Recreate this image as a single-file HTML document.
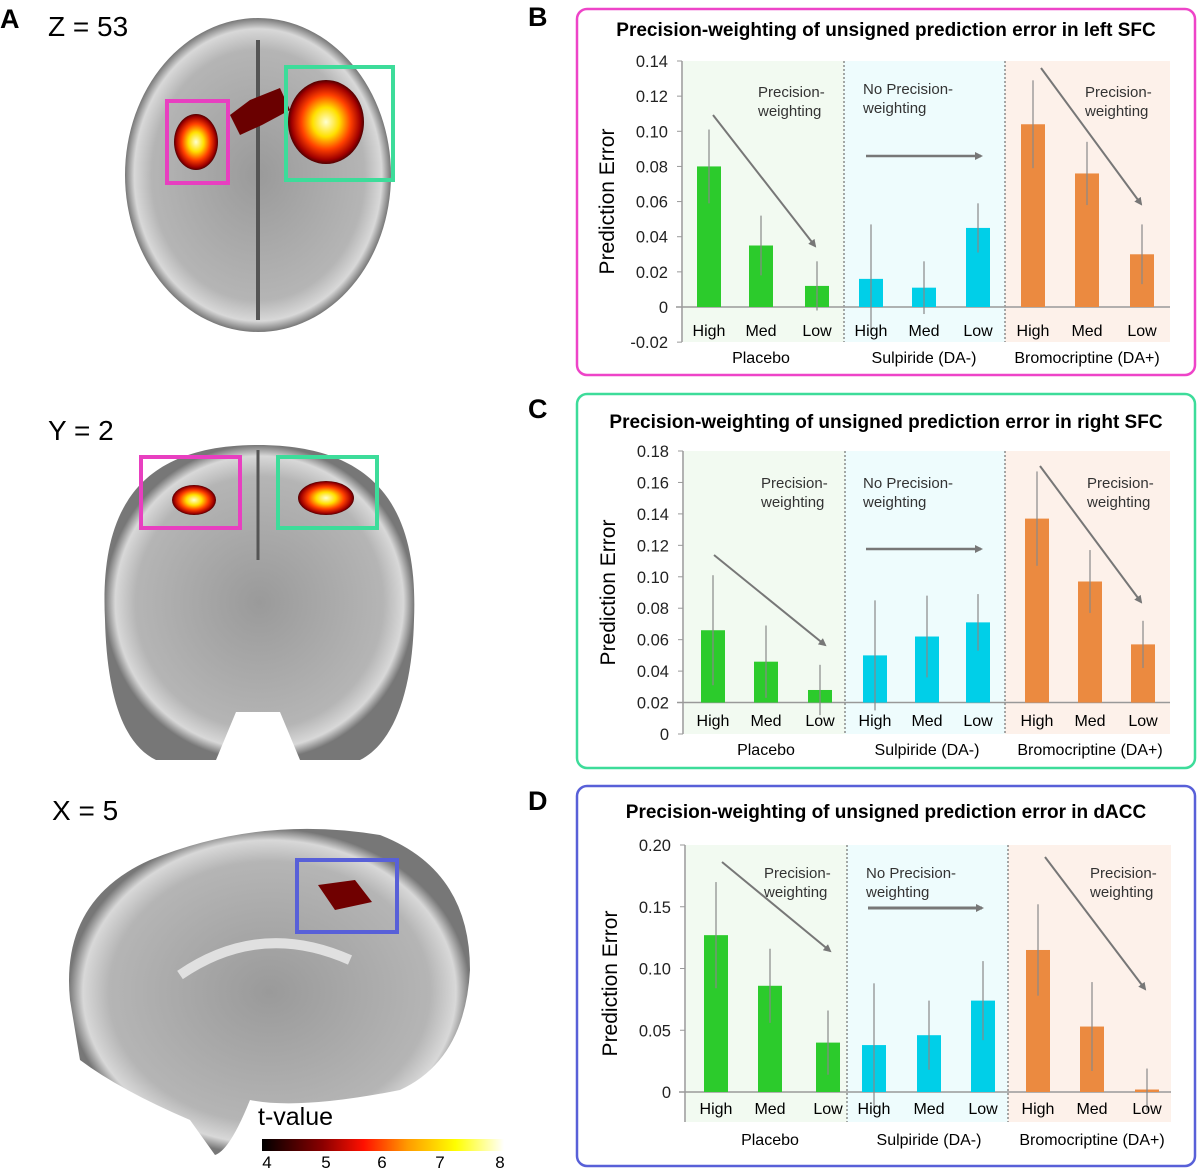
<!DOCTYPE html>
<html><head><meta charset="utf-8">
<style>
body{margin:0;background:#fff;}
svg{display:block;font-family:"Liberation Sans",Arial,sans-serif;}
</style></head>
<body>
<svg id="fig" width="1200" height="1171" viewBox="0 0 1200 1171" xmlns="http://www.w3.org/2000/svg">
<defs>
<linearGradient id="cb" x1="0" x2="1" y1="0" y2="0">
<stop offset="0" stop-color="#000"/><stop offset="0.25" stop-color="#8a0000"/><stop offset="0.42" stop-color="#ff1000"/><stop offset="0.6" stop-color="#ff9a00"/><stop offset="0.8" stop-color="#ffff00"/><stop offset="1" stop-color="#ffffff"/>
</linearGradient>
<radialGradient id="brain" cx="0.5" cy="0.5" r="0.5">
<stop offset="0" stop-color="#9a9a9a"/><stop offset="0.8" stop-color="#b5b5b5"/><stop offset="0.93" stop-color="#d8d8d8"/><stop offset="1" stop-color="#777"/>
</radialGradient>
<radialGradient id="hot" cx="0.5" cy="0.5" r="0.5">
<stop offset="0" stop-color="#ffffd0"/><stop offset="0.35" stop-color="#ffe000"/><stop offset="0.65" stop-color="#ff4000"/><stop offset="0.9" stop-color="#a00000"/><stop offset="1" stop-color="#500000"/>
</radialGradient>
<marker id="ah" markerWidth="8" markerHeight="8" refX="6" refY="4" orient="auto" markerUnits="userSpaceOnUse"><path d="M0,0 L8,4 L0,8 z" fill="#777"/></marker>
</defs>

<g>
<text x="0" y="28" font-size="27" font-weight="bold">A</text>
<text x="48" y="36" font-size="28">Z = 53</text>
<ellipse cx="258" cy="175" rx="133" ry="157" fill="url(#brain)"/>
<line x1="258" y1="40" x2="258" y2="320" stroke="#555" stroke-width="4"/>
<path d="M230,115 L250,100 L280,88 L290,110 L262,125 L240,135 Z" fill="#6a0000"/>
<ellipse cx="196" cy="142" rx="22" ry="28" fill="url(#hot)"/>
<ellipse cx="326" cy="122" rx="38" ry="42" fill="url(#hot)"/>
<rect x="167" y="101" width="61" height="82" fill="none" stroke="#e83fc0" stroke-width="4"/>
<rect x="286" y="67" width="107" height="113" fill="none" stroke="#3ddc9a" stroke-width="4"/>

<text x="48" y="440" font-size="28">Y = 2</text>
<path d="M105,620 C100,520 130,445 258,445 C386,445 418,520 414,620 C412,700 390,745 360,760 L300,760 L280,712 L236,712 L216,760 L156,760 C125,745 107,700 105,620 Z" fill="url(#brain)"/>
<line x1="258" y1="450" x2="258" y2="560" stroke="#555" stroke-width="3"/>
<ellipse cx="194" cy="500" rx="22" ry="15" fill="url(#hot)"/>
<ellipse cx="326" cy="498" rx="28" ry="17" fill="url(#hot)"/>
<rect x="141" y="457" width="99" height="71" fill="none" stroke="#e83fc0" stroke-width="4"/>
<rect x="278" y="457" width="99" height="71" fill="none" stroke="#3ddc9a" stroke-width="4"/>

<text x="52" y="820" font-size="28">X = 5</text>
<path d="M70,1000 Q60,900 150,860 Q260,815 380,835 Q470,870 470,970 Q465,1060 400,1090 Q300,1110 250,1100 Q230,1150 215,1155 L190,1120 Q120,1090 80,1060 Z" fill="url(#brain)"/>
<path d="M180,975 Q260,920 350,960" fill="none" stroke="#e0e0e0" stroke-width="10"/>
<path d="M318,885 L355,880 L372,902 L335,910 Z" fill="#700000"/>
<rect x="297" y="860" width="100" height="72" fill="none" stroke="#5860d8" stroke-width="4"/>

<text x="258" y="1125" font-size="25">t-value</text>
<rect x="262" y="1139" width="242" height="12" fill="url(#cb)"/>
<g font-size="17" text-anchor="middle">
<text x="267" y="1168">4</text><text x="326" y="1168">5</text><text x="382" y="1168">6</text><text x="440" y="1168">7</text><text x="500" y="1168">8</text>
</g>
</g>

<g id="charts"></g>
</svg>

<script>
const categories = ["High","Med","Low","High","Med","Low","High","Med","Low"];
const groups = ["Placebo","Sulpiride (DA-)","Bromocriptine (DA+)"];
const valuesB = [0.080,0.035,0.012, 0.016,0.011,0.045, 0.104,0.076,0.030];
const errTopB = [0.101,0.052,0.026, 0.047,0.026,0.059, 0.129,0.094,0.047];
const ticksB = [-0.02,0,0.02,0.04,0.06,0.08,0.10,0.12,0.14];
const valuesC = [0.066,0.046,0.028, 0.050,0.062,0.071, 0.137,0.097,0.057];
const errTopC = [0.101,0.069,0.044, 0.085,0.088,0.089, 0.167,0.117,0.072];
const ticksC = [0,0.02,0.04,0.06,0.08,0.10,0.12,0.14,0.16,0.18];
const valuesD = [0.127,0.086,0.040, 0.038,0.046,0.074, 0.115,0.053,0.002];
const errTopD = [0.170,0.116,0.066, 0.088,0.074,0.106, 0.152,0.089,0.019];
const ticksD = [0,0.05,0.10,0.15,0.20];

const NS="http://www.w3.org/2000/svg";
const root=document.getElementById('charts');
function mk(tag,attrs,parent){const e=document.createElementNS(NS,tag);for(const k in attrs)e.setAttribute(k,attrs[k]);(parent||root).appendChild(e);return e;}
const colors=["#2ccb2c","#00cfe8","#eb8a40"];
const shades=["#f2faf1","#eefcfd","#fdf1ea"];

function chart(p){
  const g=mk('g',{});
  
  
  const box=mk('rect',{x:p.box[0],y:p.box[1],width:p.box[2],height:p.box[3],rx:10,fill:'#fff',stroke:p.stroke,'stroke-width':2.5},g);
  
  
  const lab=mk('text',{x:p.letter[0],y:p.letter[1],'font-size':27,'font-weight':'bold'},g);lab.textContent=p.letterT;
  
  
  const t=mk('text',{x:p.box[0]+p.box[2]/2,y:p.titleY,'font-size':19,'font-weight':'bold','text-anchor':'middle'},g);t.textContent=p.title;
  
  
  const y=v=>p.y0-(v-0)*(p.y0-p.yTop)/p.yMaxV;
  for(let i=0;i<3;i++){
    const r=mk('rect',{x:p.div[i],y:p.yTop,width:p.div[i+1]-p.div[i],height:p.shadeBot-p.yTop,fill:shades[i]},g);
    
    
  }
  for(let i=1;i<3;i++){const l=mk('line',{x1:p.div[i],x2:p.div[i],y1:p.yTop,y2:p.shadeBot,stroke:'#555','stroke-dasharray':'2,2','stroke-width':1},g);
    
    }
  const ax=mk('line',{x1:p.axX,x2:p.axX,y1:p.yTop,y2:p.shadeBot,stroke:'#999','stroke-width':1.5},g);
  
  
  p.ticks.forEach(v=>{
    const tl=mk('line',{x1:p.axX-5,x2:p.axX,y1:y(v),y2:y(v),stroke:'#999'},g);
    
    
    const tx=mk('text',{x:p.axX-14,y:y(v)+6,'font-size':16.5,'text-anchor':'end',fill:'#222'},g);
    tx.textContent=p.fmt(v);
    
    
  });
  const yt=mk('text',{x:0,y:0,'font-size':21,'text-anchor':'middle',transform:`translate(${p.axX-68},${(p.yTop+p.shadeBot)/2}) rotate(-90)`},g);
  yt.textContent='Prediction Error';
  
  
  const bl=mk('line',{x1:p.axX-6,x2:p.div[3],y1:y(p.base),y2:y(p.base),stroke:'#999','stroke-width':1.5},g);
  
  
  p.values.forEach((v,i)=>{
    const cx=p.cx[i],gi=Math.floor(i/3);
    const top=Math.min(y(v),y(p.base)),h=Math.abs(y(v)-y(p.base));
    const b=mk('rect',{x:cx-12,y:top,width:24,height:h,fill:colors[gi]},g);
    
    
    const e=p.err[i]-v;
    const el=mk('line',{x1:cx,x2:cx,y1:y(p.err[i]),y2:y(v-e),stroke:'#888','stroke-width':1.2},g);
    
    
    const ct=mk('text',{x:cx,y:p.catY,'font-size':16,'text-anchor':'middle'},g);
    ct.textContent=categories[i];
    
    
  });
  groups.forEach((s,i)=>{
    const gt=mk('text',{x:p.cx[i*3+1],y:p.grpY,'font-size':16,'text-anchor':'middle'},g);
    gt.textContent=s;
    
    
  });
  p.arrows.forEach(a=>{
    const l=mk('line',{x1:a[0],y1:a[1],x2:a[2],y2:a[3],stroke:'#777','stroke-width':a[4],'marker-end':'url(#ah)'},g);
    
    
  });
  p.notes.forEach(n=>{
    const tx=mk('text',{x:n[0],y:n[1],'font-size':15,fill:'#333'},g);
    tx.textContent=n[2];
    
    
    const tx2=mk('text',{x:n[0],y:n[1]+19,'font-size':15,fill:'#333'},g);
    tx2.textContent=n[3];
    
    
  });
}

chart({name:'chart-left-sfc',box:[577,9,618,366],stroke:'#ee44c8',letter:[528,26],letterT:'B',titleY:36,
 title:'Precision-weighting of unsigned prediction error in left SFC',
 yTop:61,y0:307,yMaxV:0.14,shadeBot:342,base:0,axX:682,div:[683,844,1005,1170],
 ticks:ticksB,fmt:v=>v===0?'0':v.toFixed(2),values:valuesB,err:errTopB,
 cx:[709,761,817,871,924,978,1033,1087,1142],catY:336,grpY:363,
 arrows:[[713,115,815,246,2],[866,156,981,156,2.5],[1041,68,1141,204,2]],
 notes:[[758,97,'Precision-','weighting'],[863,94,'No Precision-','weighting'],[1085,97,'Precision-','weighting']]});

chart({name:'chart-right-sfc',box:[577,394,618,374],stroke:'#3ddc9a',letter:[528,418],letterT:'C',titleY:428,
 title:'Precision-weighting of unsigned prediction error in right SFC',
 yTop:451,y0:734,yMaxV:0.18,shadeBot:734,base:0.02,axX:683,div:[684,845,1005,1170],
 ticks:ticksC,fmt:v=>v===0?'0':v.toFixed(2),values:valuesC,err:errTopC,
 cx:[713,766,820,875,927,978,1037,1090,1143],catY:726,grpY:755,
 arrows:[[714,555,825,645,2],[866,549,981,549,2.5],[1040,466,1141,602,2]],
 notes:[[761,488,'Precision-','weighting'],[863,488,'No Precision-','weighting'],[1087,488,'Precision-','weighting']]});

chart({name:'chart-dacc',box:[577,786,618,380],stroke:'#5860d8',letter:[528,810],letterT:'D',titleY:818,
 title:'Precision-weighting of unsigned prediction error in dACC',
 yTop:845,y0:1092,yMaxV:0.20,shadeBot:1122,base:0,axX:685,div:[686,847,1008,1171],
 ticks:ticksD,fmt:v=>v===0?'0':v.toFixed(2),values:valuesD,err:errTopD,
 cx:[716,770,828,874,929,983,1038,1092,1147],catY:1114,grpY:1145,
 arrows:[[722,862,830,951,2],[868,908,982,908,3],[1045,857,1145,989,2]],
 notes:[[764,878,'Precision-','weighting'],[866,878,'No Precision-','weighting'],[1090,878,'Precision-','weighting']]});
</script>
</body></html>
